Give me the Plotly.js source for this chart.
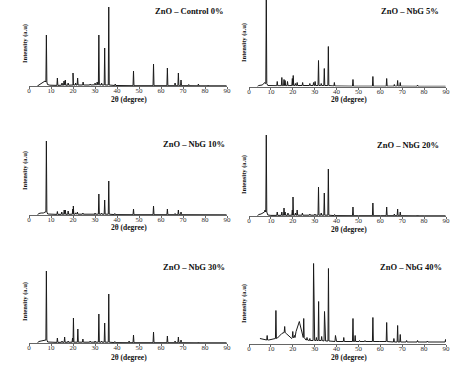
<!DOCTYPE html>
<html><head><meta charset="utf-8">
<script src="https://cdn.plot.ly/plotly-3.0.1.min.js"></script>
<style>html,body{margin:0;padding:0;background:#fff}#chart{width:474px;height:367px}</style>
</head><body><div id="chart"></div>
<script>
// ---- data (2θ in degrees, intensity in a.u.) ----
const panelTitles = ["ZnO – Control 0%", "ZnO – NbG 5%", "ZnO – NbG 10%", "ZnO – NbG 20%", "ZnO – NbG 30%", "ZnO – NbG 40%"];
const xTickVals = [0, 10, 20, 30, 40, 50, 60, 70, 80, 90];

// Control 0%
const c0BaseX = [3.8, 4.5, 5.5, 6.5, 7.3, 8.4, 9.5, 12, 20, 25, 30, 40, 50, 60, 70, 80, 89.8];
const c0BaseY = [0, 1, 2.5, 4, 5, 1.5, 0.8, 0.6, 1, 1, 1.2, 0.5, 0.3, 0.3, 0.3, 0.2, 0.2];
const c0PeakX = [7.9, 12.9, 15.0, 15.9, 16.5, 17.8, 20.0, 21.2, 22.1, 24.6, 27.8, 30.0, 31.0, 31.75, 33.0, 34.4, 36.25, 39.2, 47.5, 56.6, 62.9, 66.4, 67.9, 69.1, 72.6, 77.0, 81.4];
const c0PeakY = [51, 8, 3, 5, 6, 3, 13, 3, 8, 4, 2, 3, 4, 51, 3, 38, 79, 2, 15, 22, 18, 3, 13, 6, 1.5, 2, 1];
const c0PeakF = [4, 0.6, 0.8, 0.8, 0.8, 0.8, 1, 1, 1, 1, 1, 1.2, 1.2, 1.2, 1, 1, 1, 0.5, 0.3, 0.3, 0.3, 0.3, 0.3, 0.3, 0.3, 0.2, 0.2];

// NbG 5%
const n5BaseX = [3.8, 4.5, 6, 7.0, 8.6, 10, 20, 30, 40, 50, 60, 70, 80, 89.8];
const n5BaseY = [0, 1, 1.5, 3, 1, 0.8, 1, 1, 0.5, 0.3, 0.3, 0.3, 0.2, 0.2];
const n5PeakX = [7.3, 7.9, 12.9, 15.0, 16.0, 16.5, 17.6, 19.8, 20.2, 21.2, 22.0, 24.5, 27.8, 29.5, 30.2, 31.75, 33.0, 34.4, 36.25, 39.0, 47.5, 56.6, 62.9, 66.4, 67.9, 69.1, 77.0];
const n5PeakY = [4, 95, 5, 9, 7, 6, 5, 8, 11, 3, 4, 4, 3, 4, 5, 26, 3, 18, 40, 4, 7, 10, 8, 2, 6, 4, 1.5];
const n5PeakF = [3, 3, 0.8, 0.8, 0.8, 0.8, 0.8, 1, 1, 1, 1, 1, 1, 1, 1, 1, 1, 1, 1, 0.5, 0.3, 0.3, 0.3, 0.3, 0.3, 0.3, 0.2];

// NbG 10%
const n10BaseX = [3.8, 4.5, 5.5, 6.5, 7.4, 8.5, 10, 20, 30, 40, 50, 60, 70, 80, 89.8];
const n10BaseY = [0, 1.5, 2, 2, 3, 1, 0.6, 0.8, 0.8, 0.4, 0.3, 0.3, 0.3, 0.2, 0.2];
const n10PeakX = [7.9, 12.9, 14.9, 16.0, 16.5, 17.8, 19.9, 20.15, 21.2, 22.0, 24.5, 27.8, 30.0, 31.75, 33.0, 34.4, 36.25, 39.0, 47.5, 56.6, 62.9, 66.4, 67.9, 69.1];
const n10PeakY = [74, 3.5, 3, 5, 5, 4, 6, 9, 2, 3, 2, 1.5, 2, 21, 2, 15, 34, 1.5, 6, 9, 6, 1.5, 5, 3];
const n10PeakF = [3, 0.6, 0.7, 0.7, 0.7, 0.7, 0.8, 0.8, 0.8, 0.8, 0.8, 0.8, 0.8, 0.8, 0.8, 0.8, 0.8, 0.4, 0.3, 0.3, 0.3, 0.3, 0.3, 0.3];

// NbG 20%
const n20BaseX = [3.8, 4.5, 5.5, 6.5, 7.0, 8.6, 10, 20, 30, 40, 50, 60, 70, 80, 89.8];
const n20BaseY = [0, 1.5, 2, 3, 4, 1, 0.6, 0.8, 0.8, 0.4, 0.3, 0.3, 0.3, 0.2, 0.2];
const n20PeakX = [7.3, 7.9, 12.9, 15.0, 16.0, 16.5, 17.8, 19.8, 20.1, 21.2, 22.0, 24.4, 27.8, 30.1, 31.75, 33.0, 34.4, 36.25, 39.1, 47.5, 56.6, 62.9, 66.4, 67.9, 69.1, 77.0];
const n20PeakY = [6, 81, 4, 4, 8, 4, 3, 6, 19, 3, 6, 3, 2, 2, 29, 3, 23, 47, 1.5, 9, 13, 9, 2, 7, 4, 1];
const n20PeakF = [4, 4, 0.6, 0.7, 0.7, 0.7, 0.7, 0.8, 0.8, 0.8, 0.8, 0.8, 0.8, 0.8, 0.8, 0.8, 0.8, 0.8, 0.4, 0.3, 0.3, 0.3, 0.3, 0.3, 0.3, 0.2];

// NbG 30%
const n30BaseX = [3.8, 4.5, 5.5, 6.5, 7.4, 8.5, 10, 20, 30, 40, 50, 60, 70, 80, 89.8];
const n30BaseY = [0, 1.5, 2, 2.5, 3, 1, 0.6, 0.8, 0.8, 0.4, 0.3, 0.3, 0.3, 0.2, 0.2];
const n30PeakX = [7.9, 12.9, 15.0, 16.2, 17.8, 19.8, 20.2, 22.2, 24.5, 27.8, 30.0, 31.75, 33.0, 34.4, 36.25, 39.0, 45.5, 47.5, 56.6, 62.9, 66.4, 67.9, 69.1, 77.0];
const n30PeakY = [72, 5, 2, 6, 2, 5, 25, 14, 4, 2, 2, 29, 2, 20, 49, 1.5, 2, 8, 11, 7, 2, 6, 3, 1];
const n30PeakF = [3, 0.6, 0.7, 0.7, 0.7, 0.8, 0.8, 0.8, 0.8, 0.8, 0.8, 0.8, 0.8, 0.8, 0.8, 0.4, 0.3, 0.3, 0.3, 0.3, 0.3, 0.3, 0.3, 0.2];

// NbG 40%
const n40BaseX = [5, 7, 9, 10.5, 11.5, 13, 14, 15, 16, 17, 18, 19, 19.5, 20.5, 21.5, 22.5, 23.2, 23.8, 24.5, 26, 28, 30, 33, 35, 38, 40, 45, 50, 60, 70, 80, 89.5];
const n40BaseY = [5, 4, 3.5, 4, 5, 5.5, 8, 10, 11, 10, 8, 6, 5, 6, 12, 19, 20, 14, 6, 3.5, 3, 3, 3, 2.5, 2.5, 2, 2, 2, 2, 1.5, 1.5, 1.5];
const n40PeakX = [8.3, 12.3, 16.3, 20.0, 20.8, 23.0, 25.0, 26.5, 27.8, 29.5, 30.8, 31.8, 33.2, 34.5, 36.3, 39.5, 43.3, 47.5, 48.5, 50.5, 53.0, 56.6, 60.0, 62.9, 66.2, 67.9, 69.1, 72.0, 77.0, 81.5, 89.8];
const n40PeakY = [8, 33, 17, 12, 8, 22, 25, 6, 5, 80, 6, 42, 7, 32, 75, 8, 6, 25, 8, 3, 3, 26, 2.5, 21, 5, 18, 9, 3, 3, 2.5, 4];
const n40PeakF = [3.5, 5, 11, 6, 6, 20, 6, 3.5, 3, 3, 3, 3, 3, 2.5, 2.5, 2, 2, 2, 2, 2, 2, 2, 2, 2, 1.5, 1.5, 1.5, 1.5, 1.5, 1.5, 1.5];

// ---- build line points from the read values ----
const HW = 0.22; // half-width of drawn peaks (style)
function pattern(bx, by, px, py, pf) {
  const pts = [];
  for (let i = 0; i < bx.length; i++) pts.push([bx[i], by[i]]);
  for (let i = 0; i < px.length; i++) {
    pts.push([px[i] - HW, pf[i]]);
    pts.push([px[i], py[i]]);
    pts.push([px[i] + HW, pf[i]]);
  }
  pts.sort((a, b) => a[0] - b[0]);
  return {x: pts.map(p => p[0]), y: pts.map(p => p[1])};
}
const series = [
  pattern(c0BaseX, c0BaseY, c0PeakX, c0PeakY, c0PeakF),
  pattern(n5BaseX, n5BaseY, n5PeakX, n5PeakY, n5PeakF),
  pattern(n10BaseX, n10BaseY, n10PeakX, n10PeakY, n10PeakF),
  pattern(n20BaseX, n20BaseY, n20PeakX, n20PeakY, n20PeakF),
  pattern(n30BaseX, n30BaseY, n30PeakX, n30PeakY, n30PeakF),
  pattern(n40BaseX, n40BaseY, n40PeakX, n40PeakY, n40PeakF)
];

// ---- layout (pixel geometry) ----
const W = 474, H = 367;
const colPx = [[29, 227], [249, 446]];
const rowPx = [[4, 86], [0, 86.5], [135, 215], [135, 216], [263, 343], [261, 343.5]]; // [top, axis] per panel
const yMax = [82, 86.5, 80, 81, 80, 82.5];
const titlePos = [[226, 11], [441, 11], [227, 144], [441, 145], [227, 267], [444, 267]];
const yLabPos = [[25, 44], [244, 43], [25, 171], [244, 175], [25, 302], [244, 304]];
const xLabY = [99, 99.5, 228, 229.5, 357, 357.5];

const px = x => x / W, py = y => 1 - y / H;
const serif = 'Liberation Serif, Times New Roman, serif';
const data = [], annotations = [];
const layout = {
  width: W, height: H, margin: {l: 0, r: 0, t: 0, b: 0},
  paper_bgcolor: '#fff', plot_bgcolor: '#fff', showlegend: false, hovermode: false,
  annotations: annotations
};
for (let i = 0; i < 6; i++) {
  const c = colPx[i % 2], r = rowPx[i];
  const sx = i === 0 ? '' : String(i + 1);
  data.push({x: series[i].x, y: series[i].y, type: 'scatter', mode: 'lines',
    line: {color: '#1a1a1a', width: 1}, xaxis: 'x' + sx, yaxis: 'y' + sx});
  layout['xaxis' + sx] = {
    domain: [px(c[0]), px(c[1])], anchor: 'y' + sx, range: [0, 90],
    tickvals: xTickVals, ticks: 'outside', ticklen: 2, tickcolor: '#666', tickwidth: 1,
    ticklabelstandoff: -4,
    showline: true, linecolor: '#666', linewidth: 1, showgrid: false, zeroline: false,
    tickfont: {family: serif, size: 7, color: '#333'}
  };
  layout['yaxis' + sx] = {
    domain: [py(r[1]), py(r[0])], anchor: 'x' + sx, range: [0, yMax[i]],
    showline: false, showgrid: false, zeroline: false, showticklabels: false, ticks: ''
  };
  annotations.push({text: '<b>' + panelTitles[i] + '</b>', xref: 'paper', yref: 'paper',
    x: px(titlePos[i][0]), y: py(titlePos[i][1]), xanchor: 'right', yanchor: 'middle',
    showarrow: false, font: {family: serif, size: 8.5, color: '#111'}});
  annotations.push({text: '<b>Intensity (a.u)</b>', xref: 'paper', yref: 'paper',
    x: px(yLabPos[i][0]), y: py(yLabPos[i][1]), xanchor: 'center', yanchor: 'middle', textangle: -90,
    showarrow: false, font: {family: serif, size: 6.5, color: '#111'}});
  annotations.push({text: '<b>2θ (degree)</b>', xref: 'paper', yref: 'paper',
    x: px((c[0] + c[1]) / 2 + 1), y: py(xLabY[i]), xanchor: 'center', yanchor: 'middle',
    showarrow: false, font: {family: serif, size: 7.5, color: '#111'}});
}
Plotly.newPlot('chart', data, layout, {staticPlot: true, displayModeBar: false});
</script></body></html>
